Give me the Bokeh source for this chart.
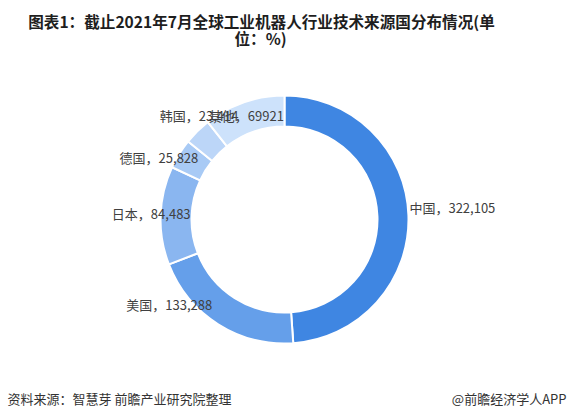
import math
from bokeh.plotting import figure
from bokeh.models import Range1d, ColumnDataSource
from bokeh.core.properties import value
from bokeh.embed import file_html
from bokeh.resources import INLINE

# ---- data ----
countries = ["中国", "美国", "日本", "德国", "韩国", "其他"]
counts = [322105, 133288, 84483, 25828, 23414, 69921]
count_labels = ["322,105", "133,288", "84,483", "25,828", "23,414", "69921"]
title_lines = ["图表1：截止2021年7月全球工业机器人行业技术来源国分布情况(单", "位：%)"]
source_text = "资料来源：智慧芽 前瞻产业研究院整理"
brand_text = "@前瞻经济学人APP"

# ---- styles / layout ----
colors = ["#3f86e2", "#659fea", "#8ab6f0", "#a8caf5", "#bcd6f8", "#cde2fb"]
W, H = 568, 419
CX, CY = 284, 219          # screen coords of donut centre
R_OUT, R_IN = 124, 93
# label nudges (screen px) relative to the outer-edge point at each slice's mid angle
label_dx = [1, -6, 30, 19, 41, 40]
label_dy = [-8, -20, -2, 4, -16, 13]
label_align = ["left", "right", "right", "right", "right", "right"]

FONT = "Noto Sans CJK SC"

p = figure(width=W, height=H, x_range=Range1d(0, W), y_range=Range1d(0, H),
           output_backend="svg", toolbar_location=None, min_border=0)
p.axis.visible = False
p.grid.visible = False
p.outline_line_color = None
p.background_fill_color = "white"
p.border_fill_color = "white"

total = float(sum(counts))
starts, ends, mids = [], [], []
acc = 0.0
for c in counts:
    a0 = acc / total * 2 * math.pi
    acc += c
    a1 = acc / total * 2 * math.pi
    starts.append(math.pi / 2 - a0)
    ends.append(math.pi / 2 - a1)
    mids.append((a0 + a1) / 2)

src = ColumnDataSource(dict(x=[CX] * len(counts), y=[H - CY] * len(counts),
                            start=starts, end=ends, color=colors))
p.annular_wedge(x="x", y="y", inner_radius=R_IN, outer_radius=R_OUT,
                inner_radius_units="screen", outer_radius_units="screen",
                start_angle="start", end_angle="end", direction="clock",
                fill_color="color", line_color="white", line_width=2, source=src)

# labels
lx, ly, lt = [], [], []
for i, m in enumerate(mids):
    sx = CX + R_OUT * math.sin(m) + label_dx[i]
    sy = CY - R_OUT * math.cos(m) + label_dy[i]
    lx.append(sx)
    ly.append(H - sy)
    lt.append(f"{countries[i]}，{count_labels[i]}")
lsrc = ColumnDataSource(dict(x=lx, y=ly, text=lt, align=label_align))
p.text(x="x", y="y", text="text", text_align="align", text_baseline="middle",
       text_font=value(FONT), text_font_size="13px", text_color="#404040", source=lsrc)

# title
p.text(x=[261, 260], y=[H - 20.5, H - 37], text=title_lines,
       text_align="center", text_baseline="middle", text_font=value(FONT),
       text_font_size="15.6px", text_font_style="bold", text_color="#1e1e1e")

# footer
p.text(x=[7], y=[H - 398], text=[source_text], text_align="left", text_baseline="middle",
       text_font=value(FONT), text_font_size="13px", text_color="#333333")
p.text(x=[566], y=[H - 398], text=[brand_text], text_align="right", text_baseline="middle",
       text_font=value(FONT), text_font_size="13px", text_color="#333333")

open("out.html", "w").write(file_html(p, INLINE))
